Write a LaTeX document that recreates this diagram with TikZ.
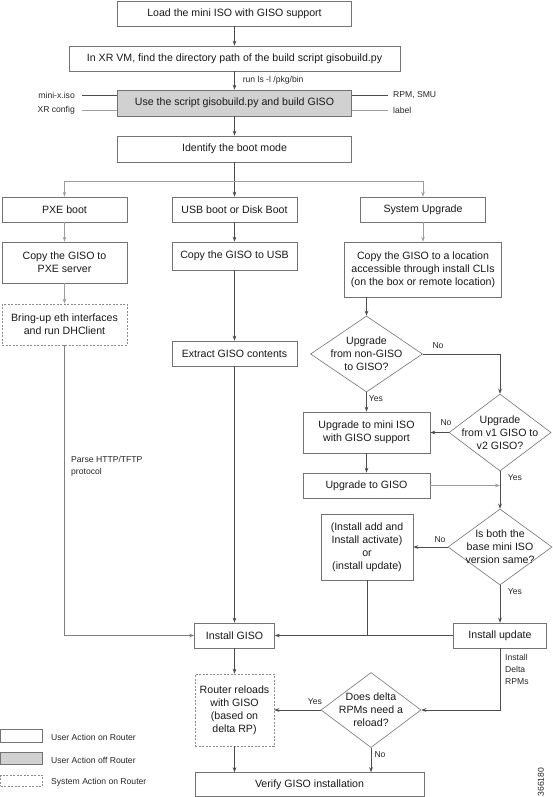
\documentclass[tikz,border=0pt]{standalone}
\usepackage{fontspec}
\setmainfont{Liberation Sans}
\usetikzlibrary{arrows.meta,shapes.geometric,positioning}

\begin{document}
\begin{tikzpicture}[x=1pt,y=-1pt]

\tikzset{stepbox/.style={draw=black!55, line width=0.6pt, fill=white, font=\fontsize{10.6}{13}\selectfont, align=center, inner sep=0pt, text=black!90},
offbox/.style={stepbox, fill=black!18},
sysbox/.style={stepbox, draw=black!45, dash pattern=on 2pt off 1.5pt},
decision/.style={diamond, draw=black!55, line width=0.6pt, inner sep=0pt},
lbl/.style={font=\fontsize{8.6}{12}\selectfont, inner sep=0pt, align=left, text=black!85},
conn/.style={draw=black!70, line width=0.6pt},
flow/.style={conn, -{Stealth[length=5pt,width=3.6pt]}},
lightflow/.style={flow, draw=black!38, line width=0.8pt}}

\useasboundingbox (0,0) rectangle (552,797);

% main column
\node[stepbox, minimum width=234pt, minimum height=25pt] (load) at (234.5,13.5) {Load the mini ISO with GISO support};
\node[stepbox, minimum width=331pt, minimum height=25pt] (find) at (234.5,58.5) {In XR VM, find the directory path of the build script gisobuild.py};
\node[offbox, minimum width=234pt, minimum height=26pt] (build) at (234.5,103) {Use the script gisobuild.py and build GISO};
\node[stepbox, minimum width=234pt, minimum height=26pt] (boot) at (234.5,149) {Identify the boot mode};

% the three boot modes
\foreach \n/\x/\t in {pxe/64.5/PXE boot, usb/234.5/USB boot or Disk Boot, sysup/423/System Upgrade}
  \node[stepbox, minimum width=125pt, minimum height=25pt] (\n) at (\x,209.5) {\t};

\node[stepbox, minimum width=125pt, minimum height=41pt] (pxecopy) at (64.5,262.5) {Copy the GISO to\\PXE server};
\node[stepbox, minimum width=125pt, minimum height=28pt] (usbcopy) at (234.5,256) {Copy the GISO to USB};
\node[stepbox, minimum width=157pt, minimum height=55pt] (syscopy) at (423,269.5) {Copy the GISO to a location\\accessible through install CLIs\\(on the box or remote location)};
\node[sysbox, minimum width=125pt, minimum height=41pt] (dhcp) at (64.5,324.5) {Bring-up eth interfaces\\and run DHClient};
\node[stepbox, minimum width=125pt, minimum height=25pt] (extract) at (234.5,353.5) {Extract GISO contents};

%decisions: empty diamond, text laid on top
\foreach \n/\x/\y/\w/\h/\t in {d1/366.5/354/112/76/Upgrade\\from non-GISO\\to GISO?, d2/500/432.5/102/77/Upgrade\\from v1 GISO to\\v2 GISO?, d3/500/547/104/76/Is both the\\base mini ISO\\version same?, d4/371/710/100/75/Does delta\\RPMs need a\\reload?}
{
  \node[decision, minimum width=\w pt, minimum height=\h pt] (\n) at (\x,\y) {};
  \node[stepbox, draw=none, fill=none] (\n-t) at (\n) {\t};
}

\node[stepbox, minimum width=127pt, minimum height=41pt] (tomini) at (366.5,432.5) {Upgrade to mini ISO\\with GISO support};
\node[stepbox, minimum width=127pt, minimum height=25pt] (togiso) at (366.5,485.5) {Upgrade to GISO};
\node[stepbox, minimum width=92pt, minimum height=66pt] (instadd) at (367,547) {(Install add and\\Install activate)\\or\\(install update)};
\node[stepbox, minimum width=80pt, minimum height=25pt] (instgiso) at (234.5,635.5) {Install GISO};
\node[stepbox, minimum width=93pt, minimum height=25pt] (instupd) at (500,635.5) {Install update};
\node[sysbox, minimum width=79pt, minimum height=72pt] (reload) at (234.5,710) {Router reloads\\with GISO\\(based on\\delta RP)};
\node[stepbox, minimum width=229pt, minimum height=24pt] (verify) at (309.5,784.5) {Verify GISO installation};

% inputs of the build script
\foreach \n/\y/\t/\c in {minix/95/mini-x.iso/black!70, xrcfg/110/XR config/black!38}
{
  \node[lbl, anchor=east] (\n) at (75,\y) {\t};
  \draw[conn, draw=\c] ([xshift=7pt]\n.east) -- (\n.east -| build.west);
}
\foreach \n/\y/\t/\c in {rpm/95/{RPM, SMU}/black!70, lbltag/110/label/black!38}
{
  \node[lbl, anchor=west] (\n) at (393,\y) {\t};
  \draw[conn, draw=\c] ([xshift=-5pt]\n.west) -- (\n.west -| build.east);
}

\draw[flow] (load) -- (find);
\draw[flow] (find) -- (build) node[lbl, midway, right=8pt] (runls) {run ls -l /pkg/bin};
\draw[flow] (build) -- (boot);

\coordinate (split) at (234.5,181);
\draw[flow] (boot) -- (usb);
\draw[lightflow] (split) -| (pxe);
\draw[lightflow] (split) -| (sysup);

\draw[lightflow] (pxe) -- (pxecopy);
\draw[lightflow] (pxecopy) -- (dhcp);
\draw[flow] (usb) -- (usbcopy);
\draw[flow] (usbcopy) -- (extract);
\draw[lightflow] (sysup) -- (syscopy);
\draw[flow] (syscopy.south -| d1.north) -- (d1.north);

\draw[flow] (d1.east) -| (d2.north);
\draw[flow] (d1) -- (tomini);
\draw[flow] (d2) -- (tomini);
\draw[flow] (tomini) -- (togiso);
\draw[flow] (d2) -- (d3);
\draw[lightflow] (togiso.east) -- (togiso.east -| d2.south);
\draw[flow] (d3) -- (instadd);
\draw[flow] (d3) -- (instupd);

\draw[flow] (extract) -- (instgiso);
\draw[flow] (instupd) -- (instgiso);
\draw[conn] (instadd.south) -- (instadd.south |- instgiso.east);
\draw[flow, draw=black!50] (dhcp.south) |- (instgiso.west);
\node[lbl, anchor=west] (parse) at (71,466) {Parse HTTP/TFTP\\protocol};

\draw[flow] (instgiso) -- (reload);
\draw[flow] (instupd.south) |- (d4.east);
\node[lbl, anchor=west] (delta) at (505,669) {Install\\Delta\\RPMs};
\draw[flow] (d4) -- (reload);
\draw[flow] (d4.south) -- (d4.south |- verify.north);
\draw[flow] (reload) -- (reload.south |- verify.north);

\foreach \n/\x/\y/\t in {no1/438/346/No, yes1/376/399/Yes, no2/446/423/No, yes2/515/478/Yes, no3/440/540/No, yes3/515/592/Yes, yes4/315/702/Yes, no4/380/755/No}
  \node[lbl] (\n) at (\x,\y) {\t};

%legend
\foreach \s/\y/\h/\t in {stepbox/735.5/13/User Action on Router, offbox/758/12/User Action off Router, sysbox/780.5/11/System Action on Router}
{
  \node[\s, minimum width=42pt, minimum height=\h pt] (key-\s) at (21.5,\y) {};
  \node[lbl, anchor=west] (txt-\s) at (51,\y+2) {\t};
}

\node[lbl, rotate=90] (figid) at (541,782) {366180};

\end{tikzpicture}
\end{document}
